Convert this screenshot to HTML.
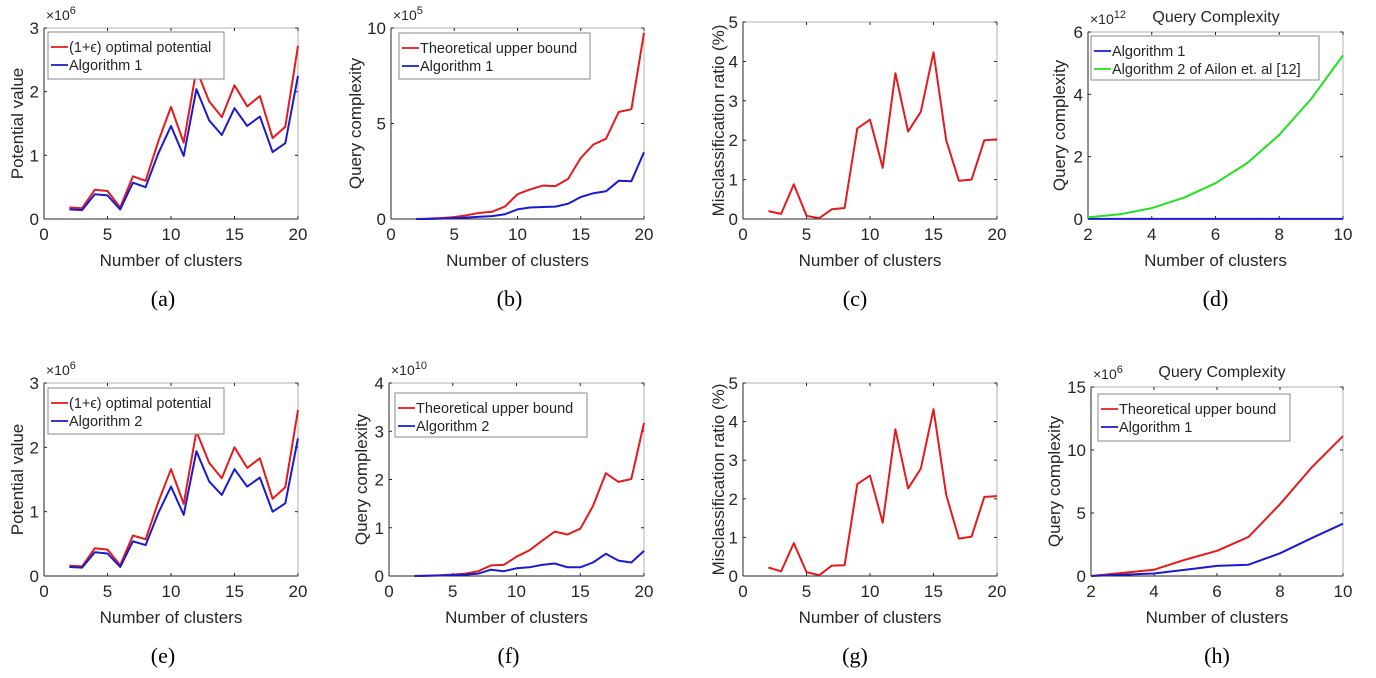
<!DOCTYPE html>
<html><head><meta charset="utf-8">
<style>
body{margin:0;background:#fff;width:1376px;height:673px;overflow:hidden}
svg text{font-family:"Liberation Sans",sans-serif;fill:#262626}
.cap{font-family:"Liberation Serif",serif;font-size:22px;fill:#000}
</style></head>
<body>
<svg id="fig" width="1376" height="673" xmlns="http://www.w3.org/2000/svg"></svg>
<script>
// ---- data ----
const xs20 = [2,3,4,5,6,7,8,9,10,11,12,13,14,15,16,17,18,19,20];
const xs10 = [2,3,4,5,6,7,8,9,10];
const aRed  = [0.18,0.17,0.46,0.44,0.18,0.67,0.60,1.22,1.76,1.20,2.35,1.85,1.60,2.10,1.77,1.93,1.27,1.45,2.72];
const aBlue = [0.15,0.14,0.39,0.37,0.15,0.57,0.50,1.03,1.46,0.99,2.04,1.55,1.32,1.74,1.46,1.61,1.05,1.19,2.25];
const bRed  = [0,0.02,0.05,0.10,0.20,0.32,0.38,0.65,1.30,1.55,1.75,1.72,2.10,3.20,3.90,4.20,5.60,5.75,9.75];
const bBlue = [0,0,0.02,0.05,0.08,0.12,0.15,0.25,0.50,0.60,0.63,0.65,0.80,1.15,1.35,1.45,2.00,1.98,3.50];
const cRed  = [0.20,0.13,0.88,0.08,0.02,0.25,0.28,2.30,2.52,1.30,3.70,2.22,2.72,4.23,2.00,0.97,1.00,2.00,2.02];
const dBlue = [0.002,0.002,0.002,0.002,0.002,0.002,0.002,0.002,0.002];
const dGreen= [0.05,0.15,0.35,0.68,1.15,1.80,2.70,3.85,5.25];
const eRed  = [0.16,0.15,0.43,0.41,0.17,0.63,0.57,1.15,1.66,1.12,2.25,1.76,1.52,2.00,1.68,1.83,1.20,1.38,2.58];
const eBlue = [0.14,0.13,0.37,0.35,0.14,0.54,0.48,0.98,1.39,0.95,1.94,1.47,1.26,1.66,1.39,1.53,1.00,1.13,2.14];
const fRed  = [0,0.005,0.015,0.03,0.05,0.10,0.22,0.23,0.40,0.53,0.73,0.92,0.86,0.98,1.45,2.13,1.95,2.01,3.17];
const fBlue = [0,0.005,0.01,0.02,0.03,0.05,0.13,0.10,0.16,0.18,0.23,0.26,0.18,0.18,0.28,0.46,0.32,0.28,0.52];
const gRed  = [0.22,0.12,0.85,0.10,0.02,0.27,0.28,2.38,2.60,1.38,3.80,2.27,2.78,4.32,2.10,0.97,1.02,2.05,2.07];
const hRed  = [0,0.25,0.5,1.3,2.0,3.1,5.7,8.6,11.1];
const hBlue = [0,0.1,0.2,0.5,0.8,0.9,1.8,3.0,4.15];
const ticks20 = [0,5,10,15,20];
const ticks10 = [2,4,6,8,10];
const yt3=[0,1,2,3], yt10=[0,5,10], yt5=[0,1,2,3,4,5], yt6=[0,2,4,6], yt4=[0,1,2,3,4], yt15=[0,5,10,15];

const RED='#e41a1c', BLUE='#1a1ad0', GREEN='#22e022';
const NS='http://www.w3.org/2000/svg';
const svg=document.getElementById('fig');
function mk(tag,attrs,parent,text){const e=document.createElementNS(NS,tag);for(const k in attrs)e.setAttribute(k,attrs[k]);if(text!==undefined)e.textContent=text;(parent||svg).appendChild(e);return e;}

function panel(p){
  const g=mk('g',{});
  
  
  const sx=v=>p.L+(v-p.xmin)/(p.xmax-p.xmin)*(p.R-p.L);
  const sy=v=>p.B-(v-p.ymin)/(p.ymax-p.ymin)*(p.B-p.T);
  const box=mk('rect',{x:p.L,y:p.T,width:p.R-p.L,height:p.B-p.T,fill:'#fff',stroke:'#b0b0b0','stroke-width':1},g);
  
  mk('line',{x1:p.L,y1:p.B,x2:p.R,y2:p.B,stroke:'#262626','stroke-width':1},g);
  mk('line',{x1:p.L,y1:p.T,x2:p.L,y2:p.B,stroke:'#262626','stroke-width':1},g);
  p.xt.forEach(t=>{const x=sx(t);
    mk('line',{x1:x,y1:p.B,x2:x,y2:p.B-3,stroke:'#262626'},g);
    mk('line',{x1:x,y1:p.T,x2:x,y2:p.T+3,stroke:'#262626'},g);
    const tt=mk('text',{x:x,y:p.B+21,'font-size':17,'text-anchor':'middle'},g,t);
    });
  p.yt.forEach(t=>{const y=sy(t);
    mk('line',{x1:p.L,y1:y,x2:p.L+3,y2:y,stroke:'#262626'},g);
    mk('line',{x1:p.R,y1:y,x2:p.R-3,y2:y,stroke:'#262626'},g);
    const tt=mk('text',{x:p.L-5,y:y+6,'font-size':17,'text-anchor':'end'},g,t);
    });
  const xl=mk('text',{x:(p.L+p.R)/2,y:p.B+47,'font-size':17,'text-anchor':'middle'},g,'Number of clusters');
  
  const yl=mk('text',{x:0,y:0,'font-size':17,'text-anchor':'middle',transform:`translate(${p.L-(p.yoff||21)},${(p.T+p.B)/2}) rotate(-90)`},g,p.ylab);
  
  if(p.exp){const ex=mk('text',{x:p.L+2,y:p.T-8,'font-size':14},g);
    
    mk('tspan',{},ex,'\u00d710');mk('tspan',{dy:-6,'font-size':11},ex,p.exp);}
  if(p.title){const ti=mk('text',{x:p.titleX,y:p.T-10,'font-size':16,'text-anchor':'middle'},g,p.title);
    }
  p.series.forEach(s=>{
    const pts=s.y.map((v,i)=>sx(s.x[i]).toFixed(1)+','+sy(Math.min(v,p.ymax)).toFixed(1)).join(' ');
    const pl=mk('polyline',{points:pts,fill:'none',stroke:s.c,'stroke-width':2,'stroke-linejoin':'round'},g);
    
    
  });
  if(p.leg){const lg=p.leg;
    const lgg=mk('g',{},g);
    
    mk('rect',{x:lg.x,y:lg.y,width:lg.w,height:lg.h,fill:'#fff',stroke:'#8a8a8a'},lgg);
    p.series.forEach((s,i)=>{
      const yy=lg.y+15+i*18;
      mk('line',{x1:lg.x+3,y1:yy,x2:lg.x+20,y2:yy,stroke:s.c,'stroke-width':1.8},lgg);
      const lt=mk('text',{x:lg.x+21,y:yy+5,'font-size':14.5},lgg,s.label);
      
    });
  }
  const cp=mk('text',{x:(p.L+p.R)/2+(p.capdx||0),y:p.B+87,'class':'cap','text-anchor':'middle'},g,p.cap);
  
}

panel({id:'a',L:44,R:298,T:28,B:219,xmin:0,xmax:20,ymin:0,ymax:3,xt:ticks20,yt:yt3,ylab:'Potential value',exp:'6',cap:'(a)',capdx:-8,
  series:[{x:xs20,y:aRed,c:RED,name:'a-red',label:'(1+\u03f5) optimal potential'},{x:xs20,y:aBlue,c:BLUE,name:'a-blue',label:'Algorithm 1'}],
  leg:{x:48,y:32,w:176,h:47}});
panel({id:'b',L:391,R:644,T:28,B:219,xmin:0,xmax:20,ymin:0,ymax:10,xt:ticks20,yt:yt10,ylab:'Query complexity',exp:'5',cap:'(b)',capdx:-8,yoff:30,
  series:[{x:xs20,y:bRed,c:RED,name:'b-red',label:'Theoretical upper bound'},{x:xs20,y:bBlue,c:BLUE,name:'b-blue',label:'Algorithm 1'}],
  leg:{x:399,y:33,w:191,h:46}});
panel({id:'c',L:743,R:997,T:22,B:219,xmin:0,xmax:20,ymin:0,ymax:5,xt:ticks20,yt:yt5,ylab:'Misclassification ratio (%)',cap:'(c)',capdx:-15,yoff:19,
  series:[{x:xs20,y:cRed,c:RED,name:'c-red',label:'Misclassification'}]});
panel({id:'d',L:1088,R:1343,T:32,B:219,xmin:2,xmax:10,ymin:0,ymax:6,xt:ticks10,yt:yt6,ylab:'Query complexity',exp:'12',cap:'(d)',capdx:0,yoff:23,
  title:'Query Complexity',titleX:1216,
  series:[{x:xs10,y:dBlue,c:BLUE,name:'d-blue',label:'Algorithm 1'},{x:xs10,y:dGreen,c:GREEN,name:'d-green',label:'Algorithm 2 of Ailon et. al [12]'}],
  leg:{x:1091,y:36,w:228,h:44}});
panel({id:'e',L:44,R:298,T:383,B:576,xmin:0,xmax:20,ymin:0,ymax:3,xt:ticks20,yt:yt3,ylab:'Potential value',exp:'6',cap:'(e)',capdx:-8,
  series:[{x:xs20,y:eRed,c:RED,name:'e-red',label:'(1+\u03f5) optimal potential'},{x:xs20,y:eBlue,c:BLUE,name:'e-blue',label:'Algorithm 2'}],
  leg:{x:48,y:388,w:176,h:46}});
panel({id:'f',L:389,R:644,T:383,B:576,xmin:0,xmax:20,ymin:0,ymax:4,xt:ticks20,yt:yt4,ylab:'Query complexity',exp:'10',cap:'(f)',capdx:-8,yoff:22,
  series:[{x:xs20,y:fRed,c:RED,name:'f-red',label:'Theoretical upper bound'},{x:xs20,y:fBlue,c:BLUE,name:'f-blue',label:'Algorithm 2'}],
  leg:{x:395,y:393,w:192,h:44}});
panel({id:'g',L:743,R:997,T:383,B:576,xmin:0,xmax:20,ymin:0,ymax:5,xt:ticks20,yt:yt5,ylab:'Misclassification ratio (%)',cap:'(g)',capdx:-15,yoff:19,
  series:[{x:xs20,y:gRed,c:RED,name:'g-red',label:'Misclassification'}]});
panel({id:'h',L:1091,R:1343,T:387,B:576,xmin:2,xmax:10,ymin:0,ymax:15,xt:ticks10,yt:yt15,ylab:'Query complexity',exp:'6',cap:'(h)',capdx:0,yoff:31,
  title:'Query Complexity',titleX:1222,
  series:[{x:xs10,y:hRed,c:RED,name:'h-red',label:'Theoretical upper bound'},{x:xs10,y:hBlue,c:BLUE,name:'h-blue',label:'Algorithm 1'}],
  leg:{x:1098,y:394,w:192,h:47}});
</script>
</body></html>
